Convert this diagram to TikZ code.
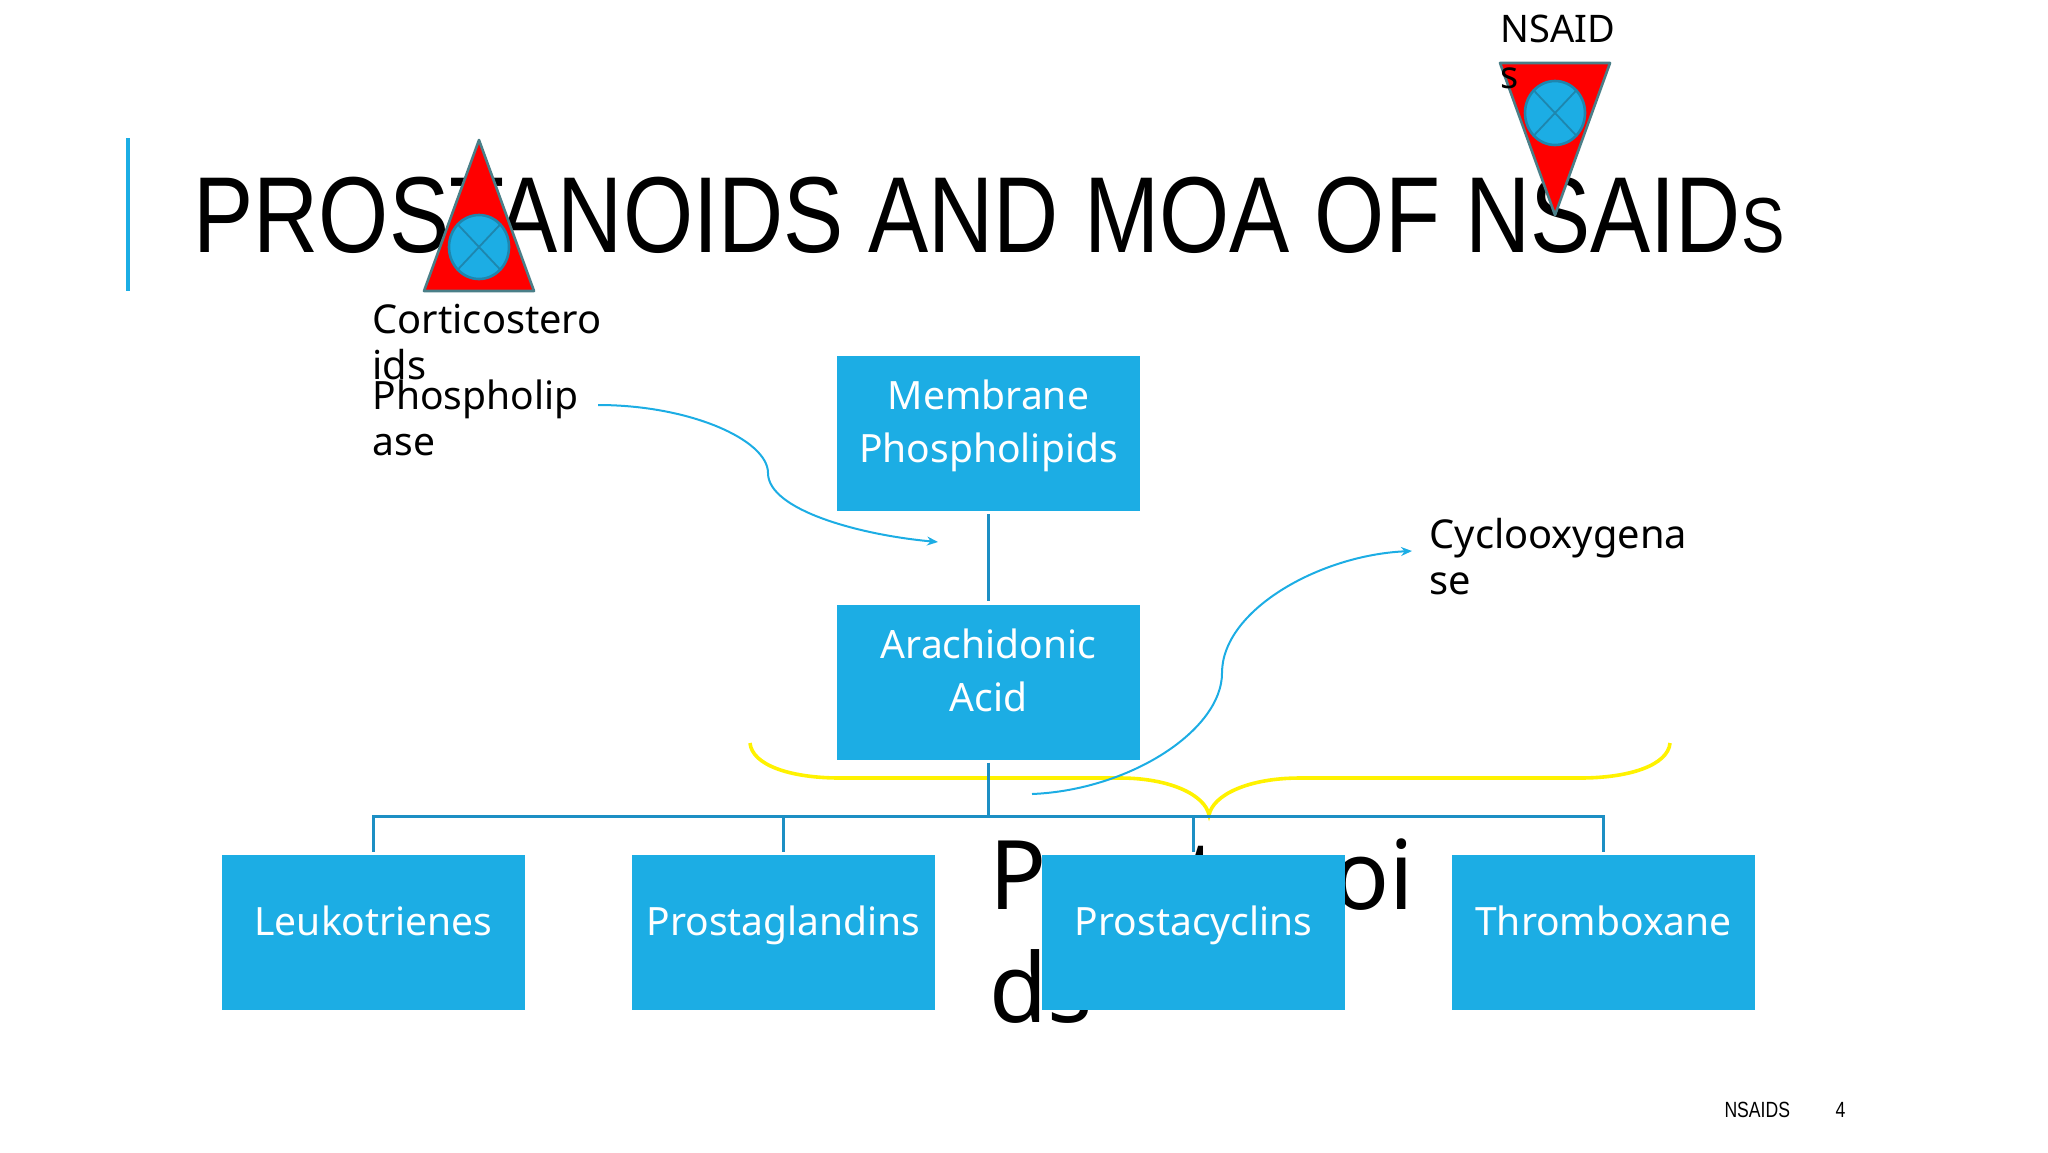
\documentclass[tikz,border=0pt]{standalone}
\usepackage{fontspec}
\setmainfont{Noto Sans}
\newfontfamily\titlefont{Liberation Sans}
\usetikzlibrary{arrows.meta,shapes.geometric}
\definecolor{boxblue}{HTML}{1CADE4}
\definecolor{stemblue}{HTML}{1C8FC4}
\definecolor{edgeteal}{HTML}{4A7F88}
\definecolor{discedge}{HTML}{1E86AE}
\newcommand{\lifted}[2]{\raisebox{#1}{\begin{tabular}[b]{@{}c@{}}#2\end{tabular}}}

\begin{document}
\begin{tikzpicture}[x=0.5pt,y=-0.5pt,>={Stealth[length=5.5pt,width=4.5pt]},semithick,
    bluebox/.style={rectangle,fill=boxblue,text=white,minimum width=151.5pt,minimum height=77.5pt,
                    align=center,inner sep=0pt,font=\fontsize{19.5}{26.5}\selectfont},
    label/.style={anchor=north west,align=left,inner sep=0pt,text=black,font=\fontsize{19.9}{23}\selectfont},
    stem/.style={draw=stemblue,line width=1.2pt},
    curved/.style={draw=boxblue,line width=1pt,->},
    blocker/.style={draw=edgeteal,fill=red,line width=1.3pt,line join=round},
    disc/.style={ellipse,draw=discedge,fill=boxblue,line width=1.3pt,minimum width=30pt,minimum height=32pt,inner sep=0pt}]

  \useasboundingbox (0,0) rectangle (2048,1152);

  % title and bar
  \draw[draw=boxblue,line width=1.6pt] (128,138) -- (128,291);
  \node (title) [anchor=base west,inner sep=0pt,xscale=0.8355] at (193,252)
        {\titlefont\fontsize{54}{54}\selectfont PROSTANOIDS AND MOA OF NSAID{\fontsize{39}{39}\selectfont S}};

  % text behind the bottom row
  \node (big) [anchor=north west,align=left,inner sep=0pt,xscale=0.985,font=\fontsize{48}{56.7}\selectfont] at (989,838)
        {Prostanoi\\ds};

  % brace
  \coordinate (braceL) at (750,743);
  \coordinate (braceR) at (1670,743);
  \coordinate (braceM) at (1209,815);
  \draw[yellow,line width=1.8pt] (braceL) .. controls (752,765) and (790,778) .. (840,778)
     -- (1120,778) .. controls (1170,778) and (1205,795) .. (braceM)
     .. controls (1213,795) and (1248,778) .. (1300,778)
     -- (1580,778) .. controls (1630,778) and (1668,765) .. (braceR);

  % boxes
  \node[bluebox] (membrane) at (988.5,433) {\lifted{15.6pt}{Membrane\\Phospholipids}};
  \node[bluebox,node distance=124.75pt] (arach) [below of=membrane] {\lifted{15.6pt}{Arachidonic\\Acid}};
  \node[bluebox] (leuko) at (373.5,932.5) {\lifted{15.8pt}{Leukotrienes}};
  \node[bluebox,node distance=205pt] (glandin) [right of=leuko] {\lifted{15.8pt}{Prostaglandins}};
  \node[bluebox,node distance=205pt] (cyclin) [right of=glandin] {\lifted{15.8pt}{Prostacyclins}};
  \node[bluebox,node distance=205pt] (thromb) [right of=cyclin] {\lifted{15.8pt}{Thromboxane}};

  % connectors
  \coordinate (bus) at (988.5,816.5);
  \draw[stem,shorten <=1.5pt,shorten >=1.5pt] (membrane) -- (arach);
  \draw[stem,shorten <=1pt] (arach) -- (bus);
  \draw[stem,shorten >=1pt] (bus) -| (leuko);
  \draw[stem,shorten >=1pt] (bus) -| (glandin);
  \draw[stem,shorten >=1pt] (bus) -| (cyclin);
  \draw[stem,shorten >=1pt] (bus) -| (thromb);

  % blockers
  \coordinate (triA) at (479,140);
  \coordinate (triB) at (424,291);
  \coordinate (triC) at (534,291);
  \draw[blocker] (triA) -- (triB) -- (triC) -- cycle;
  \node[disc] (discL) at (479,247) {};
  \draw[draw=discedge,line width=0.9pt] (discL.north west) -- (discL.south east) (discL.north east) -- (discL.south west);

  \coordinate (triD) at (1500,63);
  \coordinate (triE) at (1610,63);
  \coordinate (triF) at (1555,215);
  \draw[blocker] (triD) -- (triE) -- (triF) -- cycle;
  \node[disc] (discR) at (1555,113) {};
  \draw[draw=discedge,line width=0.9pt] (discR.north west) -- (discR.south east) (discR.north east) -- (discR.south west);

  % labels
  \node[label] (cortico) at (372,304) {Corticostero\\ids};
  \node[label,font=\fontsize{19.5}{23}\selectfont] (phospho) at (372,379) {Phospholip\\ase};
  \node[label] (cox) at (1429,518) {Cyclooxygena\\se};
  \node[label,font=\fontsize{19}{23}\selectfont] (nsaid) at (1500,14) {NSAID\\s};

  % curved arrows
  \coordinate (phA) at (598,405);
  \coordinate (phB) at (768,473);
  \coordinate (phC) at (938,542);
  \coordinate (coxA) at (1032,794);
  \coordinate (coxB) at (1222,673);
  \coordinate (coxC) at (1412,551);
  \draw[curved] (phA) .. controls (690,405) and (768,440) .. (phB) .. controls (768,510) and (860,535) .. (phC);
  \draw[curved] (coxA) .. controls (1130,790) and (1222,730) .. (coxB) .. controls (1222,610) and (1320,555) .. (coxC);

  % footer
  \node (foot) [anchor=base west,inner sep=0pt,xscale=0.8] at (1724,1117) {\titlefont\fontsize{11}{11}\selectfont NSAIDS};
  \node (pagenum) [anchor=base west,inner sep=0pt,xscale=0.8] at (1835,1117) {\titlefont\fontsize{11}{11}\selectfont 4};
\end{tikzpicture}
\end{document}
